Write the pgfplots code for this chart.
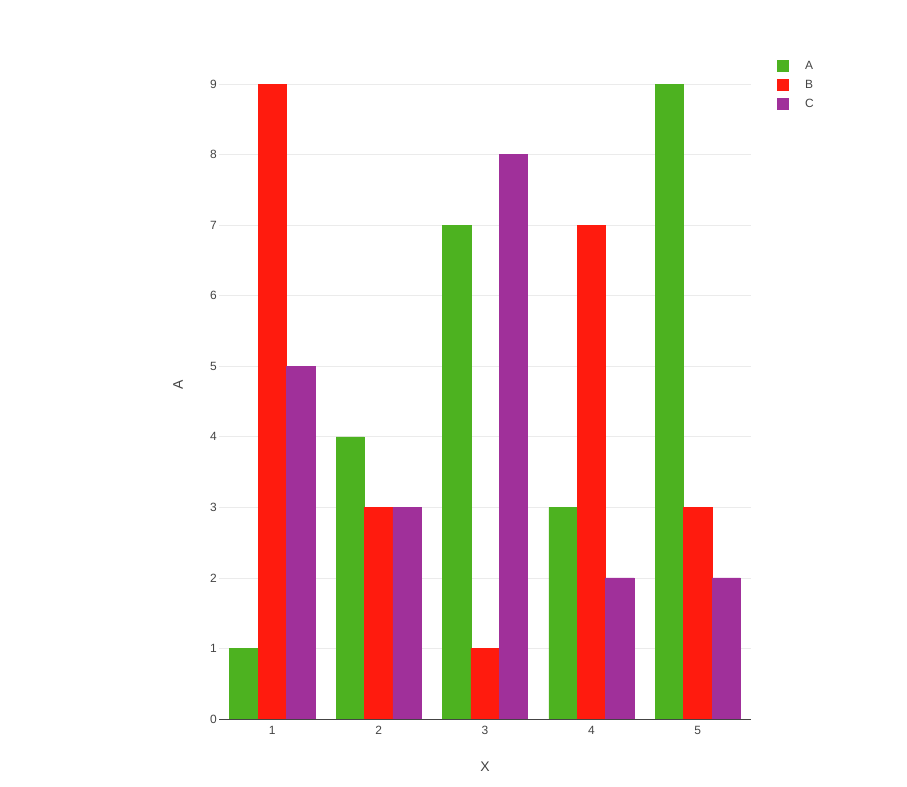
\documentclass[border=0pt]{standalone}
\usepackage{pgfplots}
\pgfplotsset{compat=1.18}
\usepackage{fontspec}
\setmainfont{Liberation Sans}
\definecolor{cA}{RGB}{77,178,32}
\definecolor{cB}{RGB}{255,27,14}
\definecolor{cC}{RGB}{160,48,154}
\definecolor{txt}{RGB}{68,68,68}
\definecolor{gridc}{RGB}{235,235,235}
\begin{document}
\begin{tikzpicture}
\path[use as bounding box] (0,0) rectangle (907bp,787bp);
\begin{axis}[
  at={(219bp,68bp)}, anchor=south west,
  scale only axis, width=532bp, height=668bp,
  xmin=0.5, xmax=5.5, ymin=0, ymax=9.47,
  ybar=0pt, bar width=28.4bp,
  xtick={1,2,3,4,5}, ytick={0,1,...,9},
  major tick length=0pt,
  ymajorgrids, grid style={gridc, line width=0.8bp},
  axis x line*=bottom, axis y line*=left,
  x axis line style={draw=txt, line width=1bp, -},
  y axis line style={draw=none},
  font=\fontsize{12}{14}\selectfont,
  /pgf/number format/assume math mode=true,
  ticklabel style={text=txt, font=\fontsize{12}{14}\selectfont},
  yticklabel style={inner sep=0pt, anchor=east, xshift=-2bp},
  xticklabel style={inner sep=0pt, anchor=north, yshift=-7bp},
  xlabel={X}, ylabel={A},
  label style={text=txt, font=\fontsize{14}{16}\selectfont},
  xlabel style={at={(rel axis cs:0.5,0)}, anchor=center, yshift=-48bp},
  ylabel style={at={(rel axis cs:0,0.5)}, anchor=center, yshift=41bp},
  legend style={at={(rel axis cs:1.0489,0.9865)}, anchor=north west, draw=none,
    inner sep=0pt, outer sep=0pt, row sep=7bp, column sep=16bp,
    nodes={inner sep=0pt, anchor=west, text=txt, font=\fontsize{12}{14}\selectfont}},
  legend cell align=left,
  legend image code/.code={\fill[#1,draw=none] (0bp,-6bp) rectangle (12bp,6bp);},
]
\addplot[fill=cA, draw=cA, line width=0.4bp] coordinates {(1,1) (2,4) (3,7) (4,3) (5,9)};
\addplot[fill=cB, draw=cB, line width=0.4bp] coordinates {(1,9) (2,3) (3,1) (4,7) (5,3)};
\addplot[fill=cC, draw=cC, line width=0.4bp] coordinates {(1,5) (2,3) (3,8) (4,2) (5,2)};
\legend{A,B,C}
\end{axis}
\end{tikzpicture}
\end{document}
